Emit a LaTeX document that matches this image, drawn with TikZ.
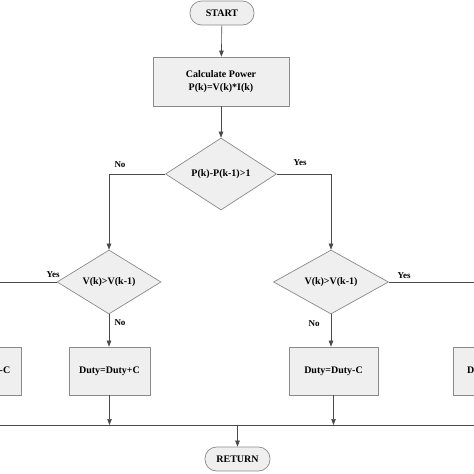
\documentclass[tikz,border=0pt]{standalone}
\usepackage{fontspec}
\setmainfont{Liberation Serif}
\usetikzlibrary{shapes.geometric,arrows.meta}
\definecolor{boxfill}{HTML}{EFEFEF}
\definecolor{boxline}{HTML}{8A8A8A}
\definecolor{conn}{HTML}{4A4A4A}
\tikzset{
  base/.style={draw=boxline, fill=boxfill, line width=0.7pt, font=\fontsize{10}{12.5}\selectfont\bfseries, inner sep=0pt, align=center},
  procbox/.style={base, rectangle},
  termbox/.style={base, rectangle, rounded corners=11.5pt, minimum width=64pt, minimum height=24pt},
  decide/.style={base, diamond, minimum height=64pt},
  conline/.style={draw=conn, line width=0.6pt},
  arr/.style={conline, -{Triangle[length=6pt,width=4.5pt]}},
  lbl/.style={font=\fontsize{9}{10}\selectfont\bfseries, inner sep=0pt}
}
\begin{document}
\begin{tikzpicture}[x=1pt,y=-1pt]
\useasboundingbox (0,0) rectangle (474,474);
\clip (0,0) rectangle (474,474);
\node[termbox] (start) at (222,13) {START};
\node[procbox, minimum width=136pt, minimum height=49pt] (calc) at (221,81.5) {Calculate Power\\P(k)=V(k)*I(k)};
\node[decide, minimum width=111pt, minimum height=72pt] (d1) at (221,174) {P(k)-P(k-1)>1};
\node[decide, minimum width=104pt] (d2) at (109,282) {V(k)>V(k-1)};
\node[decide, minimum width=115pt] (d3) at (331,282) {V(k)>V(k-1)};
\node[procbox, minimum width=81pt, minimum height=48pt] (inc) at (109.5,371) {Duty=Duty+C};
\node[procbox, minimum width=89pt, minimum height=48pt] (dec) at (333.5,371) {Duty=Duty-C};
\node[procbox, minimum width=81pt, minimum height=48pt] (decL) at (-19,371) {Duty=Duty-C};
\node[procbox, minimum width=89pt, minimum height=48pt] (incR) at (497.5,371) {Duty=Duty+C};
\node[termbox, minimum width=65pt] (ret) at (237.5,459) {RETURN};
\coordinate (busL) at (-80,425);
\coordinate (busR) at (560,425);
\draw[arr] (start) -- (calc);
\draw[arr] (calc) -- (d1);
\draw[arr] (d1.west) -| (d2.north);
\draw[arr] (d1.east) -| (d3.north);
\draw[arr] (d2.west) -| (decL.north);
\draw[arr] (d3.east) -| (incR.north);
\draw[arr] (d2.south) -- (d2.south |- inc.north);
\draw[arr] (d3.south) -- (d3.south |- dec.north);
\draw[conline] (busL) -- (busR);
\draw[arr] (inc.south) -- (inc.south |- busL);
\draw[arr] (dec.south) -- (dec.south |- busL);
\draw[arr] (decL.south) -- (decL.south |- busL);
\draw[arr] (incR.south) -- (incR.south |- busL);
\draw[arr] (ret.north |- busL) -- (ret.north);
\node[lbl] (no1) at (120,165) {No};
\node[lbl] (yes1) at (300,163) {Yes};
\node[lbl] (yes2) at (53,275) {Yes};
\node[lbl] (yes3) at (404,276) {Yes};
\node[lbl] (no2) at (120,323) {No};
\node[lbl] (no3) at (314,324) {No};
\end{tikzpicture}
\end{document}
